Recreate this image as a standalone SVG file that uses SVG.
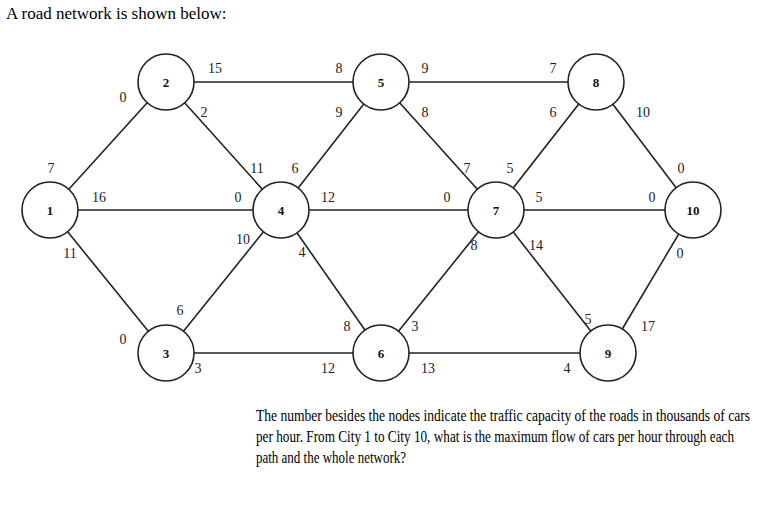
<svg xmlns="http://www.w3.org/2000/svg" width="763" height="521" viewBox="0 0 763 521">
<style>
.e{stroke:#222;stroke-width:1.6}
.n circle{fill:#fff;stroke:#222;stroke-width:1.6}
.n text{font-family:"Liberation Serif","Times New Roman",serif;font-size:13px;font-weight:bold;text-anchor:middle;dominant-baseline:central;fill:#111}
.l{font-family:"Liberation Serif","Times New Roman",serif;font-size:14px;text-anchor:middle;dominant-baseline:central;fill:#222}
.t{font-family:"Liberation Serif","Times New Roman",serif;font-size:17px;fill:#000}
.b{font-family:"Liberation Serif","Times New Roman",serif;font-size:16px;fill:#000}
</style>
<rect width="763" height="521" fill="#fff"/>
<text class="t" x="6" y="19">A road network is shown below:</text>
<g id="connectors">
<line class="e" x1="50" y1="210" x2="166" y2="82"/>
<line class="e" x1="50" y1="210" x2="281" y2="210"/>
<line class="e" x1="50" y1="210" x2="166" y2="353"/>
<line class="e" x1="166" y1="82" x2="381" y2="82"/>
<line class="e" x1="166" y1="82" x2="281" y2="210"/>
<line class="e" x1="166" y1="353" x2="281" y2="210"/>
<line class="e" x1="166" y1="353" x2="381" y2="353"/>
<line class="e" x1="281" y1="210" x2="381" y2="82"/>
<line class="e" x1="281" y1="210" x2="496" y2="210"/>
<line class="e" x1="281" y1="210" x2="381" y2="353"/>
<line class="e" x1="381" y1="82" x2="596" y2="82"/>
<line class="e" x1="381" y1="82" x2="496" y2="210"/>
<line class="e" x1="381" y1="353" x2="496" y2="210"/>
<line class="e" x1="381" y1="353" x2="608" y2="353"/>
<line class="e" x1="496" y1="210" x2="596" y2="82"/>
<line class="e" x1="496" y1="210" x2="693" y2="210"/>
<line class="e" x1="496" y1="210" x2="608" y2="353"/>
<line class="e" x1="596" y1="82" x2="693" y2="210"/>
<line class="e" x1="608" y1="353" x2="693" y2="210"/>
</g>
<g id="node1" class="n"><circle cx="50" cy="210" r="28"/><text x="50" y="210">1</text></g>
<g id="node2" class="n"><circle cx="166" cy="82" r="28"/><text x="166" y="82">2</text></g>
<g id="node3" class="n"><circle cx="166" cy="353" r="28"/><text x="166" y="353">3</text></g>
<g id="node4" class="n"><circle cx="281" cy="210" r="28"/><text x="281" y="210">4</text></g>
<g id="node5" class="n"><circle cx="381" cy="82" r="28"/><text x="381" y="82">5</text></g>
<g id="node6" class="n"><circle cx="381" cy="353" r="28"/><text x="381" y="353">6</text></g>
<g id="node7" class="n"><circle cx="496" cy="210" r="28"/><text x="496" y="210">7</text></g>
<g id="node8" class="n"><circle cx="596" cy="82" r="28"/><text x="596" y="82">8</text></g>
<g id="node9" class="n"><circle cx="608" cy="353" r="28"/><text x="608" y="353">9</text></g>
<g id="node10" class="n"><circle cx="693" cy="210" r="28"/><text x="693" y="210">10</text></g>
<g id="labels">
<text class="l" x="51" y="168">7</text>
<text class="l" x="99" y="197">16</text>
<text class="l" x="70" y="253">11</text>
<text class="l" x="123" y="97">0</text>
<text class="l" x="215" y="68">15</text>
<text class="l" x="204" y="112">2</text>
<text class="l" x="339" y="68">8</text>
<text class="l" x="339" y="112">9</text>
<text class="l" x="257" y="168">11</text>
<text class="l" x="295" y="168">6</text>
<text class="l" x="238" y="197">0</text>
<text class="l" x="328" y="197">12</text>
<text class="l" x="243" y="239">10</text>
<text class="l" x="302" y="252">4</text>
<text class="l" x="180" y="310">6</text>
<text class="l" x="123" y="339">0</text>
<text class="l" x="198" y="368">3</text>
<text class="l" x="328" y="368">12</text>
<text class="l" x="347" y="326">8</text>
<text class="l" x="425" y="68">9</text>
<text class="l" x="553" y="68">7</text>
<text class="l" x="425" y="112">8</text>
<text class="l" x="553" y="112">6</text>
<text class="l" x="643" y="112">10</text>
<text class="l" x="467" y="168">7</text>
<text class="l" x="510" y="168">5</text>
<text class="l" x="681" y="168">0</text>
<text class="l" x="447" y="197">0</text>
<text class="l" x="539" y="197">5</text>
<text class="l" x="652" y="197">0</text>
<text class="l" x="474" y="245">8</text>
<text class="l" x="536" y="245">14</text>
<text class="l" x="680" y="253">0</text>
<text class="l" x="415" y="326">3</text>
<text class="l" x="588" y="319">5</text>
<text class="l" x="648" y="326">17</text>
<text class="l" x="428" y="368">13</text>
<text class="l" x="567" y="368">4</text>
</g>
<text class="b" x="256" y="421" textLength="494" lengthAdjust="spacingAndGlyphs">The number besides the nodes indicate the traffic capacity of the roads in thousands of cars</text>
<text class="b" x="256" y="442" textLength="478" lengthAdjust="spacingAndGlyphs">per hour. From City 1 to City 10, what is the maximum flow of cars per hour through each</text>
<text class="b" x="256" y="463" textLength="150" lengthAdjust="spacingAndGlyphs">path and the whole network?</text>
</svg>
